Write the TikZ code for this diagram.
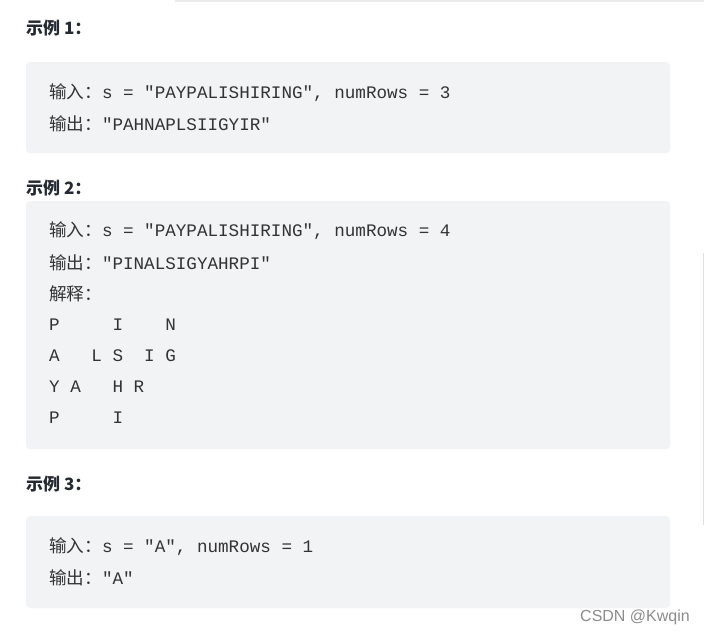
\documentclass[tikz,border=0pt]{standalone}
\usepackage{fontspec}
\setmainfont{Liberation Sans}
\newfontfamily\cjk{Noto Sans CJK SC}
\newfontfamily\mono{Liberation Mono}
\definecolor{boxbg}{HTML}{F2F3F5}
\definecolor{txt}{HTML}{333333}
\definecolor{head}{HTML}{252933}
\tikzset{
  codebox/.style={fill=boxbg,rounded corners=4pt,draw=none},
  codeline/.style={anchor=west,inner sep=0pt,text=txt,font=\fontsize{17.6}{20}\selectfont},
  heading/.style={anchor=west,inner sep=0pt,text=head,font=\fontsize{17}{20}\selectfont\cjk\bfseries},
}
\newcommand{\cl}[1]{{\cjk #1}}
\newcommand{\ml}[1]{{\mono #1}}
\begin{document}
\begin{tikzpicture}[x=1pt,y=-1pt]
\useasboundingbox[fill=white] (0,0) rectangle (704,637);
\draw[draw=black!8,line width=1.5pt] (175,1) -- (704,1);
\draw[draw=black!12,line width=1pt] (703,253) -- (703,525);
% example 1
\node[heading] (h1) at (26,28) {示例 1：};
\path[codebox] (26,62) rectangle (670,153);
\node[codeline] (a1) at (49,93) {\cl{输入：}\ml{s = "PAYPALISHIRING", numRows = 3}};
\node[codeline] (a2) at (49,124) {\cl{输出：}\ml{"PAHNAPLSIIGYIR"}};
% example 2
\node[heading] (h2) at (26,188) {示例 2：};
\path[codebox] (26,201) rectangle (670,449);
\node[codeline] (b1) at (49,231) {\cl{输入：}\ml{s = "PAYPALISHIRING", numRows = 4}};
\node[codeline] (b2) at (49,263) {\cl{输出：}\ml{"PINALSIGYAHRPI"}};
\node[codeline] (b3) at (49,294) {\cl{解释：}};
\node[codeline] (b4) at (49,325) {\ml{P\ \ \ \ \ I\ \ \ \ N}};
\node[codeline] (b5) at (49,356) {\ml{A\ \ \ L\ S\ \ I\ G}};
\node[codeline] (b6) at (49,387) {\ml{Y\ A\ \ \ H\ R}};
\node[codeline] (b7) at (49,418) {\ml{P\ \ \ \ \ I}};
% example 3
\node[heading] (h3) at (26,484) {示例 3：};
\path[codebox] (26,516) rectangle (670,608);
\node[codeline] (c1) at (49,547) {\cl{输入：}\ml{s = "A", numRows = 1}};
\node[codeline] (c2) at (49,578) {\cl{输出：}\ml{"A"}};
% watermark
\node[anchor=east,inner sep=0pt,text=black!45,font=\fontsize{16}{18}\selectfont] (wm) at (690,617) {CSDN @Kwqin};
\end{tikzpicture}
\end{document}
